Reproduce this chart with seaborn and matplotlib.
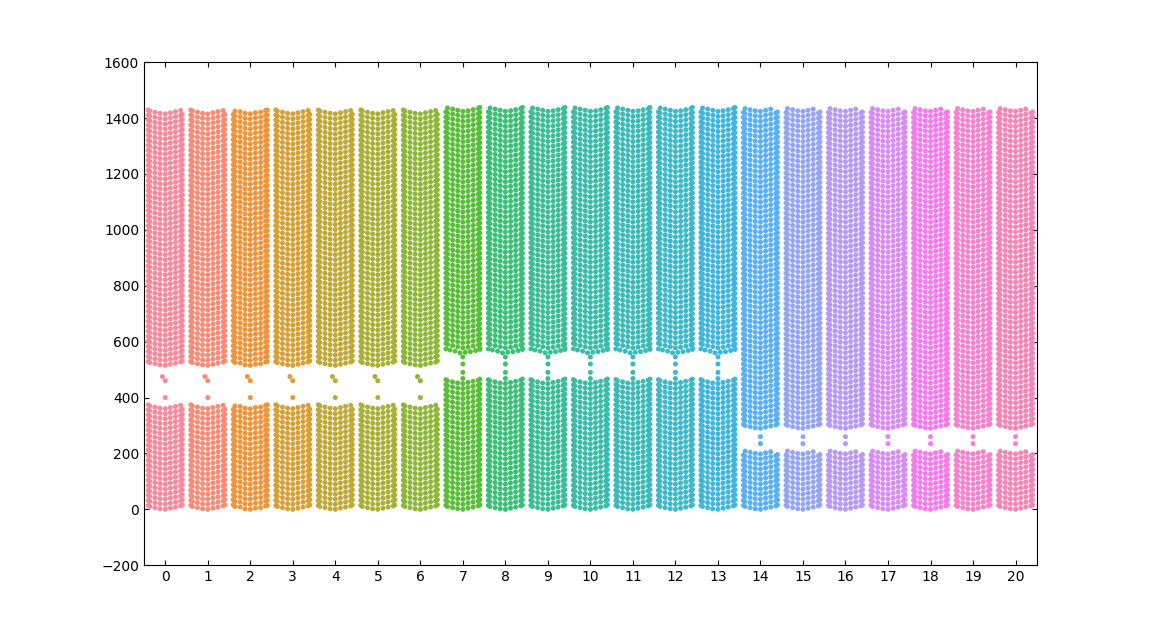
import numpy as np
import pandas as pd
import matplotlib
matplotlib.use('Agg')
import matplotlib.pyplot as plt
import seaborn as sns
import warnings
warnings.filterwarnings('ignore')

# categories 0..20, values are minutes of the day
groups = [str(g) for g in range(21)]
# (first group, last group, low segment end, high segment start, top)
block_a = [0, 6, 375, 515, 1430]
block_b = [7, 13, 470, 560, 1440]
block_c = [14, 20, 210, 290, 1435]
# lone readings inside each gap
gap_a = [400, 460, 475]
gap_b = [490, 520, 545]
gap_c = [235, 260]
step = 2  # minutes between readings

rows = []
for (first, last, low_end, high_start, top), gap in zip([block_a, block_b, block_c],
                                                        [gap_a, gap_b, gap_c]):
    vals = np.concatenate([np.arange(0, low_end, step), gap,
                           np.arange(high_start, top, step)])
    for g in range(first, last + 1):
        for v in vals:
            rows.append((groups[g], v))
df = pd.DataFrame(rows, columns=['group', 'minute'])

fig = plt.figure(figsize=(11.52, 6.28), dpi=100)
ax = fig.add_axes([0.125, 0.1, 0.775, 0.801])
sns.swarmplot(data=df, x='group', y='minute', hue='group', order=groups,
              hue_order=groups, palette=sns.husl_palette(21, s=0.9, l=0.7),
              legend=False, size=3.6, ax=ax)
ax.set_xlim(-0.5, 20.5)
ax.set_ylim(-200, 1600)
ax.set_xlabel('')
ax.set_ylabel('')
ax.tick_params(direction='in', top=True, right=True)
fig.savefig('out.png', dpi=100)
